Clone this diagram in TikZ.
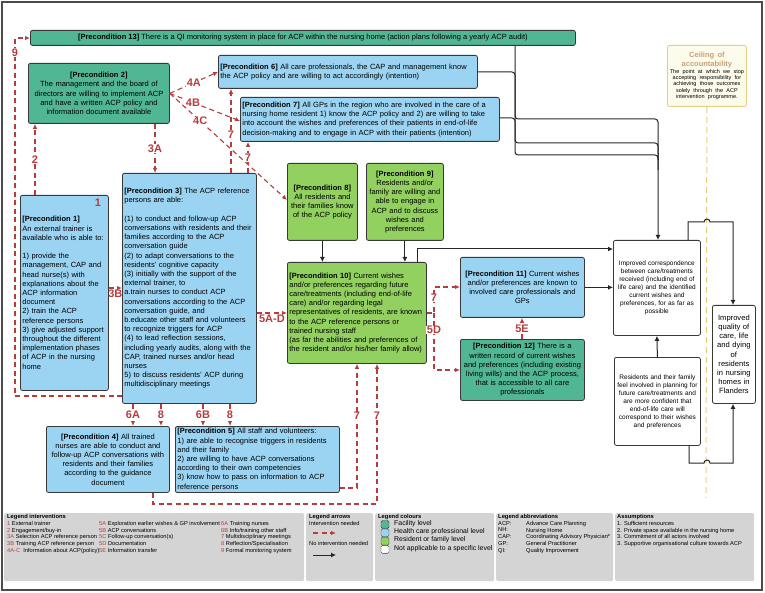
\documentclass[tikz,border=0pt]{standalone}
\usepackage{fontspec}
\setmainfont{Liberation Sans}
\usetikzlibrary{arrows.meta}

\definecolor{facility}{RGB}{80,182,148}
\definecolor{hcp}{RGB}{155,211,242}
\definecolor{resident}{RGB}{146,208,96}
\definecolor{ivred}{RGB}{185,60,60}
\definecolor{leggray}{RGB}{212,212,212}
\definecolor{ceilbrown}{RGB}{200,160,120}
\definecolor{ceilline}{RGB}{230,205,130}
\definecolor{ceilfill}{RGB}{253,251,236}

\newcommand{\ivcode}[1]{\textcolor{ivred}{#1}}

\tikzset{
  pbox/.style={draw=black!78, line width=0.8pt, rounded corners=2pt, inner sep=2pt, anchor=north west, font=\fontsize{7.5}{9.2}\selectfont},
  outcome/.style={draw=black!78, line width=0.8pt, rounded corners=2pt, fill=white, inner sep=1pt, anchor=north west, align=center},
  ivline/.style={draw=ivred, line width=1.1pt, dash pattern=on 5pt off 3.5pt},
  ivarrow/.style={ivline, -{Latex[length=5pt,width=4.5pt]}},
  okline/.style={draw=black!85, line width=1pt},
  okarrow/.style={okline, -{Latex[length=5pt,width=5pt]}},
  ivtext/.style={text=ivred, font=\bfseries\fontsize{11}{11}\selectfont, inner sep=0.5pt},
  ivlabel/.style={ivtext, fill=white},
  legbox/.style={fill=leggray, rounded corners=1.5pt, anchor=north west},
  legtitle/.style={anchor=north west, inner sep=0pt, font=\bfseries\fontsize{5.8}{6.8}\selectfont},
  legtext/.style={anchor=north west, inner sep=0pt, align=left, font=\fontsize{5.7}{6.8}\selectfont},
}

\begin{document}
\begin{tikzpicture}[x=1pt,y=-1pt]
\useasboundingbox (0,0) rectangle (765,593);
\draw[black!70, line width=1.2pt] (2,2) rectangle (762,590);

% preconditions
\node[pbox, fill=facility, minimum width=545, minimum height=15, align=center] (p13) at (30,30) {\textbf{[Precondition 13]} There is a QI monitoring system in place for ACP within the nursing home (action plans following a yearly ACP audit)};
\node[pbox, fill=facility, text width=137pt, minimum height=60, align=center] (p2) at (28,63) {\textbf{[Precondition 2]}\\The management and the board of\\directors are willing to implement ACP\\and have a written ACP policy and\\information document available};
\node[pbox, fill=hcp, text width=255pt, minimum height=33, align=left] (p6) at (218,55) {\textbf{[Precondition 6]} All care professionals, the CAP and management know\\the ACP policy and are willing to act accordingly (intention)};
\node[pbox, fill=hcp, text width=255pt, minimum height=44, align=left] (p7) at (240,97) {\textbf{[Precondition 7]} All GPs in the region who are involved in the care of a\\nursing home resident 1) know the ACP policy and 2) are willing to take\\into account the wishes and preferences of their patients in end-of-life\\decision-making and to engage in ACP with their patients (intention)};
\node[pbox, fill=hcp, text width=84pt, minimum height=195, align=left] (p1) at (20,195) {\textbf{[Precondition 1]}\\An external trainer is\\available who is able to:\\[9.2pt]1) provide the\\management, CAP and\\head nurse(s) with\\explanations about the\\ACP information\\document\\2) train the ACP\\reference persons\\3) give adjusted support\\throughout the different\\implementation phases\\of ACP in the nursing\\home\par\vspace*{19pt}};
\node[ivtext] (lone) at (98,203) {1};
\node[pbox, fill=hcp, text width=130pt, minimum height=230, align=left] (p3) at (122,173) {\textbf{[Precondition 3]} The ACP reference\\persons are able:\\[9.2pt](1) to conduct and follow-up ACP\\conversations with residents and their\\families according to the ACP\\conversation guide\\(2) to adapt conversations to the\\residents' cognitive capacity\\(3) initially with the support of the\\external trainer, to\\a.train nurses to conduct ACP\\conversations according to the ACP\\conversation guide, and\\b.educate other staff and volunteers\\to recognize triggers for ACP\\(4) to lead reflection sessions,\\including yearly audits, along with the\\CAP, trained nurses and/or head\\nurses\\5) to discuss residents' ACP during\\multidisciplinary meetings\par\vspace*{24pt}};
\node[pbox, fill=resident, text width=66pt, minimum height=77, align=center] (p8) at (287,163) {\textbf{[Precondition 8]}\\All residents and\\their families know\\of the ACP policy};
\node[pbox, fill=resident, text width=73pt, minimum height=77, align=center] (p9) at (366,163) {\textbf{[Precondition 9]}\\Residents and/or\\family are willing and\\able to engage in\\ACP and to discuss\\wishes and\\preferences};
\node[pbox, fill=resident, text width=135pt, minimum height=101, align=left] (p10) at (287,262) {\textbf{[Precondition 10]} Current wishes\\and/or preferences regarding future\\care/treatments (including end-of-life\\care) and/or regarding legal\\representatives of residents, are known\\to the ACP reference persons or\\trained nursing staff\\(as far the abilities and preferences of\\the resident and/or his/her family allow)};
\node[pbox, fill=hcp, text width=120pt, minimum height=60, align=center] (p11) at (460,257) {\textbf{[Precondition 11]} Current wishes\\and/or preferences are known to\\involved care professionals and\\GPs};
\node[pbox, fill=facility, text width=120pt, minimum height=61, align=center] (p12) at (460,339) {\textbf{[Precondition 12]} There is a\\written record of current wishes\\and preferences (including existing\\living wills) and the ACP process,\\that is accessible to all care\\professionals};
\node[pbox, fill=hcp, text width=119pt, minimum height=66, align=center] (p4) at (46,426) {\textbf{[Precondition 4]} All trained\\nurses are able to conduct and\\follow-up ACP conversations with\\residents and their families\\according to the guidance\\document};
\node[pbox, fill=hcp, text width=160pt, minimum height=66, align=left] (p5) at (175,426) {\textbf{[Precondition 5]} All staff and volunteers:\\1) are able to recognise triggers in residents\\and their family\\2) are willing to have ACP conversations\\according to their own competencies\\3) know how to pass on information to ACP\\reference persons};

% outcomes
\node[outcome, text width=85pt, minimum height=95, font=\fontsize{6.5}{8}\selectfont] (impcorr) at (613,240) {Improved correspondence\\between care/treatments\\received (including end of\\life care) and the identified\\current wishes and\\preferences, for as far as\\possible};
\node[outcome, text width=84pt, minimum height=88, font=\fontsize{6.5}{8}\selectfont] (resid) at (614,357) {Residents and their family\\feel involved in planning for\\future care/treatments and\\are more confident that\\end-of-life care will\\correspond to their wishes\\and preferences};
\node[outcome, text width=41pt, minimum height=98, font=\fontsize{7.6}{9.2}\selectfont] (impqual) at (712,305) {Improved\\quality of\\care, life\\and dying\\of\\residents\\in nursing\\homes in\\Flanders};
\node[draw=ceilline, fill=ceilfill, line width=0.8pt, rounded corners=2pt, inner sep=1pt, anchor=north west, text width=77pt, minimum height=61, align=center] (ceil) at (667,45) {{\color{ceilbrown}\bfseries\fontsize{7.5}{8.6}\selectfont Ceiling of\\accountability\par}\vspace{1pt}{\fontsize{5.5}{6.2}\selectfont The point at which we stop\\accepting responsibility for\\achieving those outcomes\\solely through the ACP\\intervention programme.\par}};
\draw[ceilline, line width=1pt, dash pattern=on 6pt off 4pt] (ceil.south) -- (706,498);

% intervention arrows
\draw[ivarrow] (p3.west |- 0,396) -- (15,396) -- node[ivlabel, pos=0.96] (l9) {9} (15,38) -- (p13.west |- 0,38);
\draw[ivarrow] (p1.north -| 35,0) -- node[ivlabel] (l2) {2} (p2.south -| 35,0);
\draw[ivarrow] (p2.south -| 155,0) -- node[ivlabel] (l3a) {3A} (p3.north -| 155,0);
\draw[ivarrow] (p2.east) -- node[ivlabel, pos=0.5] (l4a) {4A} (p6.west |- 0,72);
\draw[ivarrow] (p2.east) -- node[ivlabel, pos=0.33] (l4b) {4B} (p7.west |- 0,121);
\draw[ivarrow] (p2.east) -- node[ivlabel, pos=0.26] (l4c) {4C} (p8.west |- 0,200);
\draw[ivarrow] (p3.north -| 231,0) -- node[ivlabel, pos=0.45] (l7a) {7} (p6.south -| 231,0);
\draw[ivarrow] (p3.north -| 248,0) -- node[ivlabel] (l7b) {7} (p7.south -| 248,0);
\draw[ivarrow] (p1.east |- 0,288) -- node[ivtext, midway, below=0.5pt] (l3b) {3B} (p3.west |- 0,288);
\draw[ivarrow] (p3.east |- 0,313) -- node[ivtext, midway, below=0.5pt] (l5ad) {5A-D} (p10.west |- 0,313);
\draw[ivarrow] (p3.south -| 133,0) -- node[ivlabel] (l6a) {6A} (p4.north -| 133,0);
\draw[ivarrow] (p3.south -| 161,0) -- node[ivlabel] (l8a) {8} (p4.north -| 161,0);
\draw[ivarrow] (p3.south -| 203,0) -- node[ivlabel] (l6b) {6B} (p5.north -| 203,0);
\draw[ivarrow] (p3.south -| 230,0) -- node[ivlabel] (l8b) {8} (p5.north -| 230,0);
\draw[ivarrow] (p5.east |- 0,488) -- (357,488) -- node[ivlabel, pos=0.58] (l7c) {7} (p10.south -| 357,0);
\draw[ivarrow] (p4.south -| 153,0) -- (153,504) -- (377,504) -- node[ivlabel, pos=0.63] (l7d) {7} (p10.south -| 377,0);
\draw[ivarrow] (p10.east |- 0,313) -- (434,313) -- node[ivlabel, pos=0.58] (l7e) {7} (434,287) -- (p11.west |- 0,287);
\draw[ivarrow] (434,313) -- node[ivlabel, pos=0.3] (l5d) {5D} (434,370) -- (p12.west |- 0,370);
\draw[ivarrow] (p12.north -| 522,0) -- node[ivlabel] (l5e) {5E} (p11.south -| 522,0);

% no intervention needed
\draw[okarrow] (p8.south) -- (p10.north -| p8.south);
\draw[okarrow] (p9.south) -- (p10.north -| p9.south);
\draw[okarrow] (p10.north -| 417,0) -- (417,249) -- (impcorr.west |- 0,249);
\draw[okarrow] (p11.east) -- (impcorr.west |- p11.east);
\draw[okarrow] (resid.north) -- (impcorr.south);
\draw[okline, rounded corners=3pt] (p6.east) -- (515,72) -- (515,155) -- (658,155) -- (658,170);
\draw[okline, rounded corners=3pt] (p7.east |- 0,118) -- (515,118) -- (515,143) -- (658,143) -- (658,160);
\draw[okarrow, rounded corners=3pt] (p13.south -| 515,0) -- (515,119) -- (658,119) -- (impcorr.north -| 658,0);
\draw[okarrow] (impcorr.north -| 688,0) -- (688,222) -- (704,222) arc (180:360:3) -- (733,222) -- (impqual.north -| 733,0);
\draw[okarrow] (resid.south -| 689,0) -- (689,463) -- (704,463) arc (180:360:3) -- (733,463) -- (impqual.south -| 733,0);

% legend
\node[legbox, minimum width=300, minimum height=68] (leginter) at (4,513) {};
\node[legbox, minimum width=67, minimum height=68] (legarrows) at (306,513) {};
\node[legbox, minimum width=119, minimum height=68] (legcolours) at (375,513) {};
\node[legbox, minimum width=117, minimum height=68] (legabbr) at (496,513) {};
\node[legbox, minimum width=139, minimum height=68] (legassum) at (615,513) {};

\node[legtitle] (tinter) at (7,514) {Legend interventions};
\node[legtext] (inter1) at (7,521) {\ivcode{1} External trainer\\\ivcode{2} Engagement/buy-in\\\ivcode{3A} Selection ACP reference person\\\ivcode{3B} Training ACP reference person\\\ivcode{4A-C}\ \ Information about ACP(policy)};
\node[legtext] (inter2) at (99,521) {\ivcode{5A} Exploration earlier wishes \& GP involvement\\\ivcode{5B} ACP conversations\\\ivcode{5C} Follow-up conversation(s)\\\ivcode{5D} Documentation\\\ivcode{5E} Information transfer};
\node[legtext] (inter3) at (221,521) {\ivcode{6A} Training nurses\\\ivcode{6B} Info/training other staff\\\ivcode{7} Multidisciplinary meetings\\\ivcode{8} Reflection/Specialisation\\\ivcode{9} Formal monitoring system};

\node[legtitle] (tarrows) at (309,514) {Legend arrows};
\node[legtext] (ivneeded) at (309,521) {Intervention needed};
\coordinate (iva) at (313,533);
\coordinate (ivb) at (336,533);
\draw[ivarrow] (iva) -- (ivb);
\node[legtext] (noneeded) at (309,541) {No intervention needed};
\coordinate (oka) at (313,555);
\coordinate (okb) at (336,555);
\draw[okarrow] (oka) -- (okb);

\node[legtitle] (tcolours) at (378,514) {Legend colours};
\node[draw=black!78, fill=facility, rounded corners=1.5pt, minimum width=8, minimum height=8, inner sep=0pt] (swfac) at (385,524.5) {};
\node[draw=black!78, fill=hcp, rounded corners=1.5pt, minimum width=8, minimum height=8, inner sep=0pt] (swhcp) at (385,532.8) {};
\node[draw=black!78, fill=resident, rounded corners=1.5pt, minimum width=8, minimum height=8, inner sep=0pt] (swres) at (385,541.1) {};
\node[draw=black!78, fill=white, rounded corners=1.5pt, minimum width=8, minimum height=8, inner sep=0pt] (swnone) at (385,549.4) {};
\node[legtext, font=\fontsize{6.9}{8.3}\selectfont] (tcolourlist) at (394,520) {Facility level\\Health care professional level\\Resident or family level\\Not applicable to a specific level};

\node[legtitle] (tabbr) at (498,514) {Legend abbreviations};
\node[legtext] (abbr1) at (498,521) {ACP:\\NH:\\CAP:\\GP:\\QI:};
\node[legtext] (abbr2) at (526,521) {Advance Care Planning\\Nursing Home\\Coordinating Advisory Physician*\\General Practitioner\\Quality Improvement};

\node[legtitle] (tassum) at (617,514) {Assumptions};
\node[legtext] (assum) at (617,521) {1. Sufficient resources\\2. Private space available in the nursing home\\3. Commitment of all actors involved\\3. Supportive organisational culture towards ACP};
\end{tikzpicture}
\end{document}
